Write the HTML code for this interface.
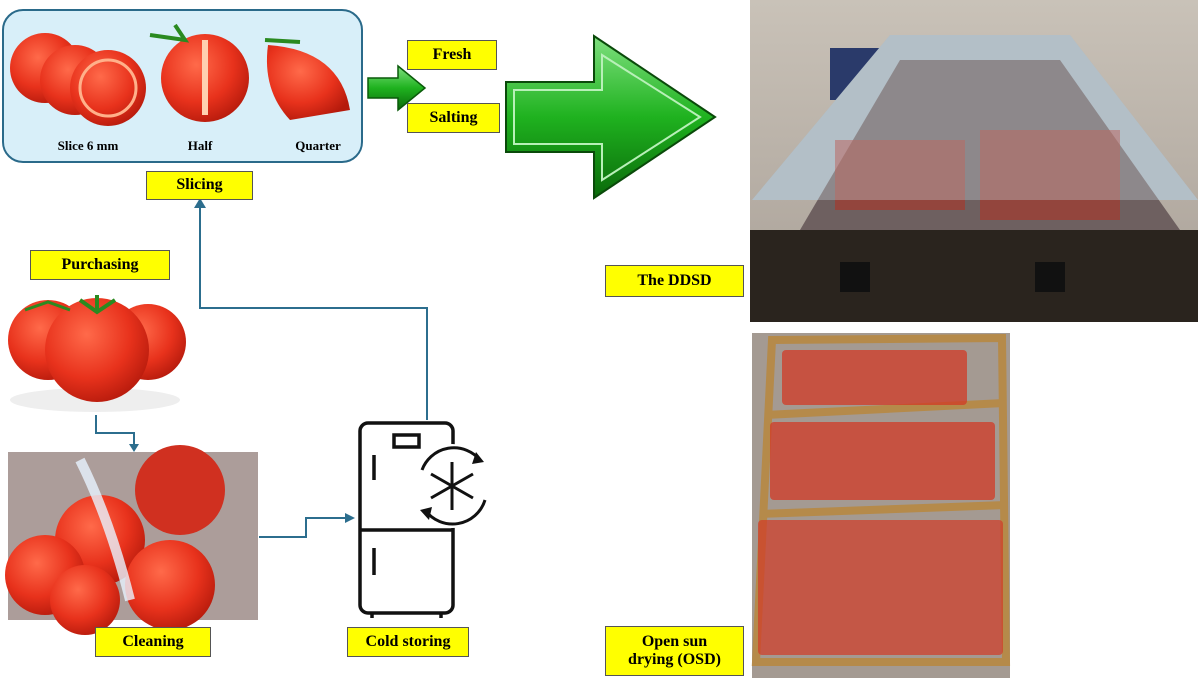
<!DOCTYPE html>
<html><head><meta charset="utf-8"><style>
html,body{margin:0;padding:0;background:#fff;}
body{width:1200px;height:681px;position:relative;overflow:hidden;font-family:"Liberation Serif",serif;}
.lbl{position:absolute;background:#ffff00;border:1px solid #555;font-weight:bold;font-size:16px;text-align:center;box-sizing:border-box;display:flex;align-items:center;justify-content:center;line-height:1.15;}
.abs{position:absolute;}
</style></head><body>
<svg class="abs" style="left:0;top:0" width="1200" height="681" viewBox="0 0 1200 681">
<defs>
<radialGradient id="tom" cx="40%" cy="35%" r="70%"><stop offset="0" stop-color="#ff6a4a"/><stop offset=".6" stop-color="#e8321c"/><stop offset="1" stop-color="#b51a0c"/></radialGradient>
<linearGradient id="grn" x1="0" y1="0" x2="0" y2="1"><stop offset="0" stop-color="#7fe07f"/><stop offset=".5" stop-color="#1fb21f"/><stop offset="1" stop-color="#0a6a0a"/></linearGradient>
<linearGradient id="sky" x1="0" y1="0" x2="0" y2="1"><stop offset="0" stop-color="#c9c2b8"/><stop offset="1" stop-color="#a9a097"/></linearGradient>
</defs>
<!-- slicing box -->
<rect x="3" y="10" width="359" height="152" rx="20" fill="#d8eff9" stroke="#2a6a8a" stroke-width="2"/>
<circle cx="45" cy="68" r="35" fill="url(#tom)"/><circle cx="75" cy="80" r="35" fill="url(#tom)"/><circle cx="108" cy="88" r="38" fill="url(#tom)"/>
<circle cx="108" cy="88" r="28" fill="none" stroke="#ffb08a" stroke-width="3"/>
<circle cx="205" cy="78" r="44" fill="url(#tom)"/><path d="M205 40 L205 115" stroke="#ffd0b0" stroke-width="6"/>
<path d="M150 35 L185 40 L175 25" stroke="#2a8a20" stroke-width="4" fill="none"/>
<path d="M268 45 Q340 50 350 110 L290 120 Q262 90 268 45Z" fill="url(#tom)"/>
<path d="M265 40 L300 42" stroke="#2a8a20" stroke-width="4"/>
<text x="88" y="150" font-size="13" font-weight="bold" text-anchor="middle" font-family="Liberation Serif">Slice 6 mm</text>
<text x="200" y="150" font-size="13" font-weight="bold" text-anchor="middle" font-family="Liberation Serif">Half</text>
<text x="318" y="150" font-size="13" font-weight="bold" text-anchor="middle" font-family="Liberation Serif">Quarter</text>
<!-- arrows -->
<path d="M368 78 L398 78 L398 66 L425 88 L398 110 L398 98 L368 98Z" fill="url(#grn)" stroke="#0a5a0a" stroke-width="1.5"/>
<path d="M506 82 L594 82 L594 36 L715 117 L594 198 L594 152 L506 152Z" fill="url(#grn)" stroke="#0a4a0a" stroke-width="2"/>
<path d="M514 90 L602 90 L602 55 L700 117 L602 180 L602 144 L514 144Z" fill="none" stroke="#b8f0b8" stroke-width="2"/>
<!-- connectors -->
<g stroke="#2c6e8e" stroke-width="2" fill="none">
<path d="M427 420 L427 308 L200 308 L200 206"/>
<path d="M259 537 L306 537 L306 518 L347 518"/>
<path d="M96 415 L96 433 L134 433 L134 446"/>
</g>
<path d="M194 208 L200 198 L206 208Z" fill="#2c6e8e"/>
<path d="M345 513 L355 518 L345 523Z" fill="#2c6e8e"/>
<path d="M129 444 L134 452 L139 444Z" fill="#2c6e8e"/>
<!-- purchasing tomatoes -->
<ellipse cx="95" cy="400" rx="85" ry="12" fill="#eee"/>
<circle cx="48" cy="340" r="40" fill="url(#tom)"/><circle cx="148" cy="342" r="38" fill="url(#tom)"/><circle cx="97" cy="350" r="52" fill="url(#tom)"/>
<path d="M80 300 L97 312 L115 300 M97 312 L97 295" stroke="#2a8a20" stroke-width="4" fill="none"/>
<path d="M25 310 L48 302 L70 310" stroke="#2a8a20" stroke-width="3" fill="none"/>
<!-- cleaning -->
<rect x="8" y="452" width="250" height="168" fill="#9a8a86"/>
<rect x="8" y="452" width="250" height="168" fill="#c8b8b8" opacity=".4"/>
<circle cx="180" cy="490" r="45" fill="#d03020"/>
<circle cx="100" cy="540" r="45" fill="url(#tom)"/><circle cx="170" cy="585" r="45" fill="url(#tom)"/><circle cx="45" cy="575" r="40" fill="url(#tom)"/><circle cx="85" cy="600" r="35" fill="url(#tom)"/>
<path d="M80 460 Q110 520 130 600" stroke="#e8f4ff" stroke-width="10" fill="none" opacity=".8"/>
<!-- fridge -->
<g stroke="#111" stroke-width="3.5" fill="none">
<rect x="360" y="423" width="93" height="190" rx="8"/>
<path d="M360 530 L453 530"/>
<rect x="394" y="435" width="25" height="12"/>
<path d="M374 455 L374 480 M374 548 L374 575"/>
<path d="M372 613 L372 618 M441 613 L441 618"/>
</g>
<circle cx="452" cy="486" r="42" fill="#fff"/>
<g stroke="#111" stroke-width="3" fill="none">
<path d="M422 470 A34 34 0 0 1 480 460"/><path d="M485 500 A34 34 0 0 1 425 510"/>
<path d="M452 462 L452 510 M431 474 L473 498 M431 498 L473 474"/>
</g>
<path d="M476 452 L484 462 L472 464Z M429 520 L420 510 L432 507Z" fill="#111"/>
<!-- DDSD photo -->
<rect x="750" y="0" width="448" height="322" fill="url(#sky)"/>
<rect x="830" y="48" width="70" height="52" fill="#2a3a6a"/>
<path d="M752 200 L890 35 L1070 35 L1198 200Z" fill="#a8b4bc"/>
<path d="M800 230 L900 60 L1060 60 L1180 230Z" fill="#6e6060"/>
<g fill="#b33020"><rect x="835" y="140" width="130" height="70" opacity=".55"/><rect x="980" y="130" width="140" height="90" opacity=".55"/></g>
<path d="M752 200 L890 35 L1070 35 L1198 200Z" fill="#c8d4dc" opacity=".35"/>
<rect x="750" y="230" width="448" height="92" fill="#2a241e"/>
<rect x="840" y="262" width="30" height="30" fill="#111"/><rect x="1035" y="262" width="30" height="30" fill="#111"/>
<!-- OSD photo -->
<rect x="752" y="333" width="258" height="345" fill="#a49a92"/>
<g stroke="#b58a4a" stroke-width="8" fill="none"><path d="M772 340 L1002 338 L1006 662 L756 662Z"/><path d="M765 415 L1004 403 M760 514 L1006 505"/></g>
<g fill="#d23a26">
<rect x="782" y="350" width="185" height="55" rx="4" opacity=".75"/>
<rect x="770" y="422" width="225" height="78" rx="4" opacity=".75"/>
<rect x="758" y="520" width="245" height="135" rx="4" opacity=".7"/>
</g>
</svg>
<div class="lbl" style="left:407px;top:40px;width:90px;height:30px;">Fresh</div>
<div class="lbl" style="left:407px;top:103px;width:93px;height:30px;">Salting</div>
<div class="lbl" style="left:146px;top:171px;width:107px;height:29px;">Slicing</div>
<div class="lbl" style="left:30px;top:250px;width:140px;height:30px;">Purchasing</div>
<div class="lbl" style="left:95px;top:627px;width:116px;height:30px;">Cleaning</div>
<div class="lbl" style="left:347px;top:627px;width:122px;height:30px;">Cold storing</div>
<div class="lbl" style="left:605px;top:265px;width:139px;height:32px;">The DDSD</div>
<div class="lbl" style="left:605px;top:626px;width:139px;height:50px;">Open sun<br>drying (OSD)</div>
</body></html>
